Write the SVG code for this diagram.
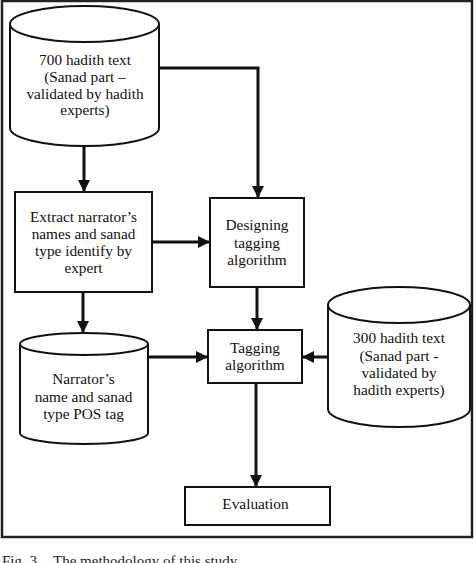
<svg xmlns="http://www.w3.org/2000/svg" width="474" height="563" viewBox="0 0 474 563">
<style>
.shape{fill:#fff;stroke:#111;stroke-width:2}
.conn{fill:none;stroke:#111;stroke-width:3}
text{font-family:"Liberation Serif","Times New Roman",serif;font-size:15.3px;fill:#111;text-anchor:middle}
.cap{text-anchor:start;font-size:15px;fill:#222}
</style>
<defs>
<marker id="ah" markerUnits="userSpaceOnUse" markerWidth="12" markerHeight="12" viewBox="0 0 12 12" refX="12" refY="6" orient="auto">
<path d="M0,0 L12,6 L0,12 Z" fill="#111"/>
</marker>
</defs>
<rect x="2" y="1" width="470" height="536" fill="#fff" stroke="#222" stroke-width="2.5"/>
<g id="connectors">
<path class="conn" d="M84,146 L84,192" marker-end="url(#ah)"/>
<path class="conn" d="M159,68 L258,68 L258,198" marker-end="url(#ah)"/>
<path class="conn" d="M152,242 L210,242" marker-end="url(#ah)"/>
<path class="conn" d="M83,292 L83,333" marker-end="url(#ah)"/>
<path class="conn" d="M257,287 L257,330" marker-end="url(#ah)"/>
<path class="conn" d="M148,357 L208,357" marker-end="url(#ah)"/>
<path class="conn" d="M328,357 L302,357" marker-end="url(#ah)"/>
<path class="conn" d="M256,383 L256,487" marker-end="url(#ah)"/>
</g>
<g id="cyl700">
<path class="shape" d="M10,24 L10,128 A74.5,18 0 0 0 159,128 L159,24"/>
<ellipse class="shape" cx="84.5" cy="24" rx="74.5" ry="18"/>
<text x="85" y="65">700 hadith text</text>
<text x="85" y="82">(Sanad part –</text>
<text x="85" y="98.5">validated by hadith</text>
<text x="85" y="115">experts)</text>
</g>
<g id="extract">
<rect class="shape" x="15" y="192" width="137" height="100"/>
<text x="83.5" y="221.5">Extract narrator’s</text>
<text x="83.5" y="239">names and sanad</text>
<text x="83.5" y="256">type identify by</text>
<text x="83.5" y="273">expert</text>
</g>
<g id="designing">
<rect class="shape" x="210" y="198" width="94" height="89"/>
<text x="257" y="230">Designing</text>
<text x="257" y="247.5">tagging</text>
<text x="257" y="265">algorithm</text>
</g>
<g id="cylNarrator">
<path class="shape" d="M20,344 L20,433 A64,11 0 0 0 148,433 L148,344"/>
<ellipse class="shape" cx="84" cy="344" rx="64" ry="11"/>
<text x="83.5" y="384">Narrator’s</text>
<text x="83.5" y="401.5">name and sanad</text>
<text x="83.5" y="418.5">type POS tag</text>
</g>
<g id="tagging">
<rect class="shape" x="208" y="330" width="94" height="53"/>
<text x="255" y="353">Tagging</text>
<text x="255" y="369.5">algorithm</text>
</g>
<g id="cyl300">
<path class="shape" d="M328,305 L328,409 A71,18 0 0 0 470,409 L470,305"/>
<ellipse class="shape" cx="399" cy="305" rx="71" ry="18"/>
<text x="399" y="343">300 hadith text</text>
<text x="399" y="360.5">(Sanad part -</text>
<text x="399" y="378">validated by</text>
<text x="399" y="395">hadith experts)</text>
</g>
<g id="evaluation">
<rect class="shape" x="185" y="487" width="145" height="38"/>
<text x="255.5" y="509">Evaluation</text>
</g>
<text class="cap" y="566"><tspan x="2">Fig. 3.</tspan><tspan x="53">The methodology of this study</tspan></text>
</svg>
